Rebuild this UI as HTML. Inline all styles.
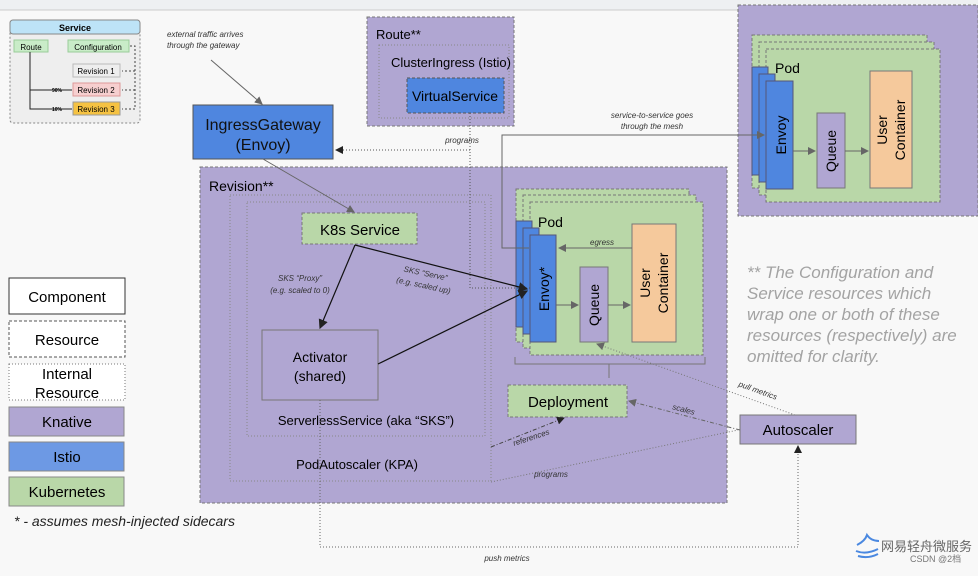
<!DOCTYPE html>
<html><head><meta charset="utf-8"><style>
body{margin:0;width:978px;height:571px;overflow:hidden;background:#f8f8f8;font-family:"Liberation Sans","Noto Sans CJK SC",sans-serif}
</style></head><body>
<svg width="978" height="571" viewBox="0 0 978 571" xmlns="http://www.w3.org/2000/svg" font-family="Liberation Sans, Noto Sans CJK SC, sans-serif">
<defs>
<marker id="a" markerWidth="8" markerHeight="8" refX="7" refY="4" orient="auto"><path d="M0,0L8,4L0,8z" fill="#222"/></marker>
<marker id="g" markerWidth="8" markerHeight="8" refX="7" refY="4" orient="auto"><path d="M0,0L8,4L0,8z" fill="#666"/></marker>
</defs>
<rect x="0" y="0" width="978" height="10" fill="#eef0f2"/>
<line x1="0" y1="10" x2="978" y2="10" stroke="#ccc"/>

<!-- Service legend -->
<rect x="10" y="20" width="130" height="103" rx="3" fill="#eeeeee" stroke="#888" stroke-dasharray="2,2"/>
<rect x="10" y="20" width="130" height="14" rx="3" fill="#bde3f7" stroke="#888"/>
<text x="75" y="31" font-size="9" font-weight="bold" text-anchor="middle">Service</text>
<rect x="14" y="40" width="34" height="12" fill="#c9ecc8" stroke="#9c9"/><text x="31" y="50" font-size="8" text-anchor="middle">Route</text>
<rect x="68" y="40" width="61" height="12" fill="#c9ecc8" stroke="#9c9"/><text x="98" y="50" font-size="8" text-anchor="middle">Configuration</text>
<rect x="73" y="64" width="47" height="13" fill="#eee" stroke="#bbb"/><text x="96" y="74" font-size="8" text-anchor="middle">Revision 1</text>
<rect x="73" y="83" width="47" height="13" fill="#f6cfcf" stroke="#d99"/><text x="96" y="93" font-size="8" text-anchor="middle">Revision 2</text>
<rect x="73" y="102" width="47" height="13" fill="#f5c242" stroke="#999"/><text x="96" y="112" font-size="8" text-anchor="middle">Revision 3</text>
<path d="M30,52V109H72M30,90H72" stroke="#222" fill="none"/>
<text x="52" y="92" font-size="5" font-weight="bold">90%</text><text x="52" y="111" font-size="5" font-weight="bold">10%</text>
<path d="M130,46H135V109H122M135,71H122M135,90H122" stroke="#444" fill="none" stroke-dasharray="2,2"/>

<!-- external traffic -->
<text x="167" y="37" font-size="8" font-style="italic" fill="#333">external traffic arrives</text>
<text x="167" y="48" font-size="8" font-style="italic" fill="#333">through the gateway</text>
<line x1="211" y1="60" x2="262" y2="104" stroke="#666" marker-end="url(#g)"/>

<!-- Ingress -->
<rect x="193" y="105" width="140" height="54" fill="#4f86df" stroke="#555"/>
<text x="263" y="130" font-size="16" text-anchor="middle" fill="#111">IngressGateway</text>
<text x="263" y="150" font-size="16" text-anchor="middle" fill="#111">(Envoy)</text>

<!-- Route -->
<rect x="367" y="17" width="147" height="109" fill="#b0a6d2" stroke="#777" stroke-dasharray="3,2"/>
<text x="376" y="39" font-size="13">Route**</text>
<rect x="379" y="45" width="130" height="73" fill="none" stroke="#888" stroke-dasharray="1,2"/>
<text x="391" y="67" font-size="13">ClusterIngress (Istio)</text>
<rect x="407" y="78" width="97" height="35" fill="#4f86df" stroke="#555" stroke-dasharray="3,2"/>
<text x="455" y="101" font-size="14" text-anchor="middle">VirtualService</text>

<!-- right pod block -->
<rect x="738" y="5" width="240" height="211" fill="#b0a6d2" stroke="#777" stroke-dasharray="3,2"/>
<rect x="752" y="35" width="175" height="153" fill="#b9d7a8" stroke="#777" stroke-dasharray="3,2"/>
<rect x="759" y="42" width="175" height="153" fill="#b9d7a8" stroke="#777" stroke-dasharray="3,2"/>
<rect x="766" y="49" width="174" height="153" fill="#b9d7a8" stroke="#777" stroke-dasharray="3,2"/>
<rect x="752" y="67" width="16" height="108" fill="#4f86df" stroke="#557"/>
<rect x="759" y="74" width="16" height="108" fill="#4f86df" stroke="#557"/>
<rect x="766" y="81" width="27" height="108" fill="#4f86df" stroke="#557"/>
<text x="775" y="73" font-size="14">Pod</text>
<text transform="translate(786,135) rotate(-90)" font-size="14" text-anchor="middle">Envoy</text>
<rect x="817" y="113" width="28" height="75" fill="#b0a6d2" stroke="#777"/>
<text transform="translate(836,151) rotate(-90)" font-size="14" text-anchor="middle">Queue</text>
<rect x="870" y="71" width="42" height="117" fill="#f5c99c" stroke="#777"/>
<text transform="translate(887,130) rotate(-90)" font-size="14" text-anchor="middle">User</text>
<text transform="translate(905,130) rotate(-90)" font-size="14" text-anchor="middle">Container</text>
<line x1="793" y1="151" x2="815" y2="151" stroke="#666" marker-end="url(#g)"/>
<line x1="845" y1="151" x2="868" y2="151" stroke="#666" marker-end="url(#g)"/>

<text x="652" y="118" font-size="8" font-style="italic" text-anchor="middle" fill="#333">service-to-service goes</text>
<text x="652" y="129" font-size="8" font-style="italic" text-anchor="middle" fill="#333">through the mesh</text>

<!-- Revision -->
<rect x="200" y="167" width="527" height="336" fill="#b0a6d2" stroke="#777" stroke-dasharray="3,2"/>
<text x="209" y="191" font-size="14">Revision**</text>
<rect x="230" y="195" width="261" height="286" fill="none" stroke="#888" stroke-dasharray="1,2"/>
<rect x="247" y="202" width="238" height="234" fill="none" stroke="#888" stroke-dasharray="1,2"/>
<rect x="302" y="213" width="115" height="31" fill="#b9d7a8" stroke="#777" stroke-dasharray="3,2"/>
<text x="360" y="235" font-size="15" text-anchor="middle">K8s Service</text>
<rect x="262" y="330" width="116" height="70" fill="#b0a6d2" stroke="#777"/>
<text x="320" y="362" font-size="14" text-anchor="middle">Activator</text>
<text x="320" y="381" font-size="14" text-anchor="middle">(shared)</text>
<text x="366" y="425" font-size="13" text-anchor="middle">ServerlessService (aka “SKS”)</text>
<text x="357" y="469" font-size="13" text-anchor="middle">PodAutoscaler (KPA)</text>

<!-- inner pods -->
<rect x="516" y="189" width="173" height="153" fill="#b9d7a8" stroke="#777" stroke-dasharray="3,2"/>
<rect x="523" y="195" width="173" height="153" fill="#b9d7a8" stroke="#777" stroke-dasharray="3,2"/>
<rect x="530" y="202" width="173" height="153" fill="#b9d7a8" stroke="#777" stroke-dasharray="3,2"/>
<rect x="516" y="221" width="16" height="106" fill="#4f86df" stroke="#557"/>
<rect x="523" y="228" width="16" height="106" fill="#4f86df" stroke="#557"/>
<rect x="530" y="235" width="26" height="107" fill="#4f86df" stroke="#557"/>
<text x="538" y="227" font-size="14">Pod</text>
<text transform="translate(549,289) rotate(-90)" font-size="14" text-anchor="middle">Envoy*</text>
<rect x="580" y="267" width="28" height="75" fill="#b0a6d2" stroke="#777"/>
<text transform="translate(599,305) rotate(-90)" font-size="14" text-anchor="middle">Queue</text>
<rect x="632" y="224" width="44" height="118" fill="#f5c99c" stroke="#777"/>
<text transform="translate(650,283) rotate(-90)" font-size="14" text-anchor="middle">User</text>
<text transform="translate(668,283) rotate(-90)" font-size="14" text-anchor="middle">Container</text>
<line x1="556" y1="305" x2="578" y2="305" stroke="#666" marker-end="url(#g)"/>
<line x1="608" y1="305" x2="630" y2="305" stroke="#666" marker-end="url(#g)"/>
<line x1="632" y1="248" x2="559" y2="248" stroke="#666" marker-end="url(#g)"/>
<text x="590" y="245" font-size="8" font-style="italic" fill="#333">egress</text>
<path d="M515,357V364H609V378M609,364H705V357" stroke="#777" fill="none"/>

<rect x="508" y="385" width="119" height="32" fill="#b9d7a8" stroke="#777" stroke-dasharray="3,2"/>
<text x="568" y="407" font-size="15" text-anchor="middle">Deployment</text>

<!-- service-to-service line -->
<path d="M529,248H502V135H764" stroke="#666" fill="none" marker-end="url(#g)"/>
<!-- programs lines -->
<path d="M470,113V288H530" stroke="#555" fill="none" stroke-dasharray="1,2"/>
<line x1="470" y1="150" x2="336" y2="150" stroke="#555" stroke-dasharray="1,2" marker-end="url(#a)"/>
<text x="462" y="143" font-size="8" font-style="italic" text-anchor="middle" fill="#333">programs</text>

<!-- arrows -->
<line x1="263" y1="159" x2="354" y2="212" stroke="#666" marker-end="url(#g)"/>
<line x1="355" y1="245" x2="527" y2="289" stroke="#111" stroke-width="1.2" marker-end="url(#a)"/>
<line x1="355" y1="245" x2="320" y2="328" stroke="#111" stroke-width="1.2" marker-end="url(#a)"/>
<line x1="378" y1="364" x2="527" y2="291" stroke="#111" stroke-width="1.2" marker-end="url(#a)"/>
<text x="300" y="281" font-size="8" font-style="italic" text-anchor="middle" fill="#333">SKS “Proxy”</text>
<text x="300" y="293" font-size="8" font-style="italic" text-anchor="middle" fill="#333">(e.g. scaled to 0)</text>
<text transform="translate(425,276) rotate(12)" font-size="8" font-style="italic" text-anchor="middle" fill="#333">SKS “Serve”</text>
<text transform="translate(423,288) rotate(12)" font-size="8" font-style="italic" text-anchor="middle" fill="#333">(e.g. scaled up)</text>

<!-- autoscaler -->
<rect x="740" y="415" width="116" height="29" fill="#b0a6d2" stroke="#777"/>
<text x="798" y="435" font-size="15" text-anchor="middle">Autoscaler</text>
<line x1="740" y1="430" x2="629" y2="401" stroke="#666" stroke-dasharray="4,2,1,2" marker-end="url(#g)"/>
<text transform="translate(683,412) rotate(15)" font-size="8" font-style="italic" text-anchor="middle" fill="#333">scales</text>
<line x1="795" y1="415" x2="597" y2="344" stroke="#777" stroke-dasharray="1,2" marker-end="url(#g)"/>
<text transform="translate(757,393) rotate(20)" font-size="8" font-style="italic" text-anchor="middle" fill="#333">pull metrics</text>
<line x1="491" y1="447" x2="564" y2="418" stroke="#444" stroke-dasharray="4,2,1,2" marker-end="url(#a)"/>
<text transform="translate(532,440) rotate(-18)" font-size="8" font-style="italic" text-anchor="middle" fill="#333">references</text>
<line x1="491" y1="482" x2="738" y2="430" stroke="#777" stroke-dasharray="1,2"/>
<text x="551" y="477" font-size="8" font-style="italic" text-anchor="middle" fill="#333">programs</text>
<path d="M320,400V547H798V446" stroke="#666" fill="none" stroke-dasharray="1,2" marker-end="url(#a)"/>
<text x="507" y="561" font-size="8" font-style="italic" text-anchor="middle" fill="#333">push metrics</text>

<!-- note -->
<g font-size="17" font-style="italic" fill="#a3a3a3">
<text x="747" y="278">** The Configuration and</text>
<text x="747" y="299">Service resources which</text>
<text x="747" y="320">wrap one or both of these</text>
<text x="747" y="341">resources (respectively) are</text>
<text x="747" y="362">omitted for clarity.</text>
</g>

<!-- legend -->
<rect x="9" y="278" width="116" height="36" fill="#fff" stroke="#333"/>
<text x="67" y="302" font-size="15" text-anchor="middle">Component</text>
<rect x="9" y="321" width="116" height="36" fill="#fff" stroke="#555" stroke-dasharray="3,2"/>
<text x="67" y="345" font-size="15" text-anchor="middle">Resource</text>
<rect x="9" y="364" width="116" height="36" fill="#fff" stroke="#777" stroke-dasharray="1,2"/>
<text x="67" y="379" font-size="15" text-anchor="middle">Internal</text>
<text x="67" y="398" font-size="15" text-anchor="middle">Resource</text>
<rect x="9" y="407" width="115" height="29" fill="#b0a6d2" stroke="#888"/>
<text x="67" y="427" font-size="15" text-anchor="middle">Knative</text>
<rect x="9" y="442" width="115" height="29" fill="#6d99e4" stroke="#888"/>
<text x="67" y="462" font-size="15" text-anchor="middle">Istio</text>
<rect x="9" y="477" width="115" height="29" fill="#b9d7a8" stroke="#888"/>
<text x="67" y="497" font-size="15" text-anchor="middle">Kubernetes</text>
<text x="14" y="526" font-size="14" font-style="italic" fill="#222">* - assumes mesh-injected sidecars</text>

<!-- watermark -->
<path d="M857,545q8,-4 10,-10q4,6 12,6M856,551q10,4 22,-2M858,556q10,3 20,-2" stroke="#4a88e0" stroke-width="2" fill="none"/>
<text x="881" y="551" font-size="13" fill="#666">网易轻舟微服务</text>
<text x="910" y="562" font-size="9" fill="#777">CSDN @2档</text>
</svg>
</body></html>
